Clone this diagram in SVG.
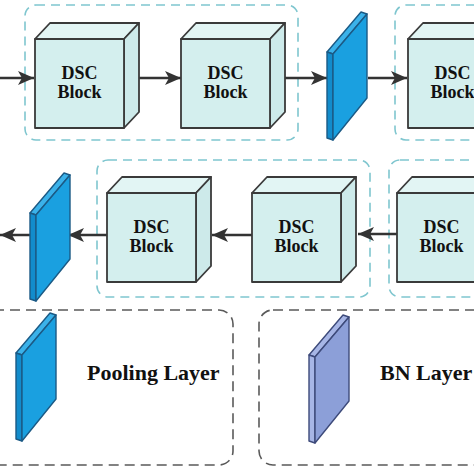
<svg xmlns="http://www.w3.org/2000/svg" width="474" height="474" viewBox="0 0 474 474">
<defs>
<style>
.grp{fill:none;stroke:#7fc6cf;stroke-width:1.6;stroke-dasharray:9 6}
.leg{fill:none;stroke:#5a5a5a;stroke-width:1.6;stroke-dasharray:10 6}
.front{fill:#d4efee;stroke:#3a3a3a;stroke-width:1.8;stroke-linejoin:round}
.top{fill:#e2f5f4;stroke:#3a3a3a;stroke-width:1.8;stroke-linejoin:round}
.side{fill:#cdeaea;stroke:#3a3a3a;stroke-width:1.8;stroke-linejoin:round}
.lbl{font-weight:bold;font-size:18px;fill:#111;text-anchor:middle}
.legt{font-weight:bold;font-size:22px;fill:#111}
.conn line{stroke:#333;stroke-width:2.5;marker-end:url(#ah)}
.pf{fill:#1aa0e0;stroke:#1b5a85;stroke-width:1.4;stroke-linejoin:round}
.ps{fill:#128ccc;stroke:#1b5a85;stroke-width:1.4;stroke-linejoin:round}
.pt{fill:#3bb2ea;stroke:#1b5a85;stroke-width:1.4;stroke-linejoin:round}
.bf{fill:#8c9fd8;stroke:#3d4a7a;stroke-width:1.4;stroke-linejoin:round}
.bs{fill:#a7b6e6;stroke:#3d4a7a;stroke-width:1.4;stroke-linejoin:round}
</style>
<marker id="ah" markerUnits="userSpaceOnUse" markerWidth="18" markerHeight="16" refX="16" refY="8" orient="auto">
<path d="M0,1 L16,8 L0,15 L4,8 z" fill="#333"/>
</marker>
<g id="cube">
<polygon class="top" points="0,0 15,-16 104,-16 89,0"/>
<polygon class="side" points="89,0 104,-16 104,73 89,89"/>
<rect class="front" x="0" y="0" width="89" height="89"/>
</g>
<g id="pool">
<polygon class="pt" points="0,2 34,-38 40,-36 6,4"/>
<polygon class="ps" points="0,2 6,4 6,90 0,88"/>
<polygon class="pf" points="6,4 40,-36 40,48 6,90"/>
</g>
</defs>
<rect width="474" height="474" fill="#ffffff"/>

<g id="groups">
<rect class="grp" x="25" y="5" width="273" height="135" rx="11"/>
<rect class="grp" x="395" y="5" width="100" height="135" rx="11"/>
<rect class="grp" x="97" y="160" width="273" height="137" rx="11"/>
<rect class="grp" x="389" y="160" width="110" height="137" rx="11"/>
</g>

<g id="connectors" class="conn">
<line x1="0" y1="78" x2="34" y2="78"/>
<line x1="139" y1="78" x2="181" y2="78"/>
<line x1="285" y1="78" x2="327" y2="78"/>
<line x1="368" y1="78" x2="407" y2="78"/>
<line x1="107" y1="235" x2="68" y2="235"/>
<line x1="30" y1="235" x2="0" y2="235"/>
<line x1="252" y1="235" x2="212" y2="235"/>
<line x1="397" y1="234" x2="358" y2="234"/>
</g>

<g font-family="Liberation Serif, Times New Roman, DejaVu Serif, serif">
<g id="dsc1"><use href="#cube" x="35" y="39"/><text class="lbl" x="79.5" y="79">DSC</text><text class="lbl" x="79.5" y="98">Block</text></g>
<g id="dsc2"><use href="#cube" x="181" y="39"/><text class="lbl" x="225.5" y="79">DSC</text><text class="lbl" x="225.5" y="98">Block</text></g>
<g id="pool1"><use href="#pool" x="327" y="50"/></g>
<g id="dsc3"><use href="#cube" x="408" y="39"/><text class="lbl" x="452.5" y="79">DSC</text><text class="lbl" x="452.5" y="98">Block</text></g>

<g id="dsc4"><use href="#cube" x="107" y="193"/><text class="lbl" x="151.5" y="233">DSC</text><text class="lbl" x="151.5" y="252">Block</text></g>
<g id="dsc5"><use href="#cube" x="252" y="193"/><text class="lbl" x="296.5" y="233">DSC</text><text class="lbl" x="296.5" y="252">Block</text></g>
<g id="dsc6"><use href="#cube" x="397" y="193"/><text class="lbl" x="441.5" y="233">DSC</text><text class="lbl" x="441.5" y="252">Block</text></g>
<g id="pool2"><use href="#pool" x="30" y="211"/></g>

<g id="legend-pool">
<rect class="leg" x="-20" y="310" width="253" height="155" rx="14"/>
<use href="#pool" x="16" y="351"/>
<text class="legt" x="87" y="380">Pooling Layer</text>
</g>
<g id="legend-bn">
<rect class="leg" x="259" y="310" width="240" height="155" rx="14"/>
<polygon class="bs" points="309,355 343,315 349,317 315,357"/>
<polygon class="bs" points="309,355 315,357 315,443 309,441"/>
<polygon class="bf" points="315,357 349,317 349,401 315,443"/>
<text class="legt" x="380" y="380">BN Layer</text>
</g>
</g>
</svg>
